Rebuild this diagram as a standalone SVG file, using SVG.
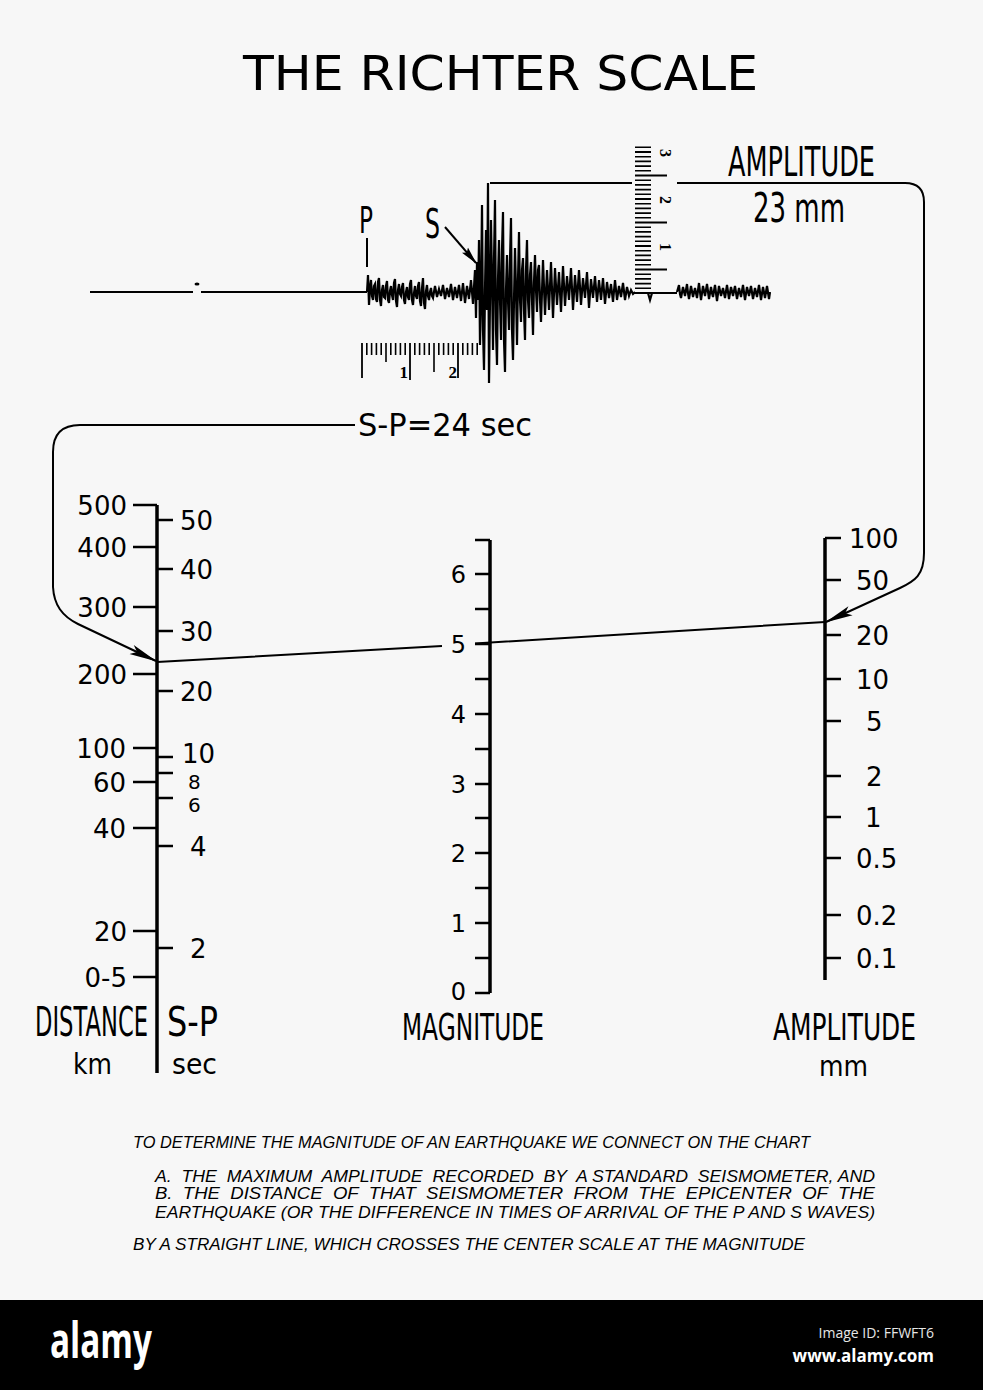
<svg xmlns="http://www.w3.org/2000/svg" width="983" height="1390" viewBox="0 0 983 1390">
<style>
.ln{stroke:#000;fill:none;stroke-width:2}
.ax{stroke:#000;fill:none;stroke-width:3.5}
.tk{stroke:#000;fill:none;stroke-width:2.5}
.num{font-family:"DejaVu Sans",sans-serif;font-size:26px;fill:#000}
.mag{font-family:"DejaVu Sans",sans-serif;font-size:24px;fill:#000}
.cap{font-family:"DejaVu Sans",sans-serif;fill:#000}
.rul{font-family:"Liberation Serif",serif;font-weight:bold;fill:#000}
.note{font-family:"Liberation Sans",sans-serif;font-style:italic;font-size:16px;fill:#000;white-space:pre}
.wave{stroke:#000;fill:none;stroke-width:2.2;stroke-linejoin:miter}
</style>
<defs>
<marker id="arr" markerWidth="28" markerHeight="12" refX="27" refY="6" orient="auto" markerUnits="userSpaceOnUse"><path d="M0,1 L28,6 L0,11 L6,6 Z" fill="#000"/></marker>
<marker id="arrS" markerWidth="18" markerHeight="9" refX="17" refY="4.5" orient="auto" markerUnits="userSpaceOnUse"><path d="M0,0.5 L18,4.5 L0,8.5 L3,4.5 Z" fill="#000"/></marker>
</defs>
<rect width="983" height="1390" fill="#f7f7f7"/>

<g id="title">
<text class="cap" x="243" y="90" font-size="48" textLength="515" lengthAdjust="spacingAndGlyphs">THE RICHTER SCALE</text>
</g>

<g id="seismogram">
<path class="ln" stroke-width="2.6" d="M90,292 H193 M201,292 H367"/>
<ellipse cx="197" cy="284" rx="2.5" ry="1.6" fill="#000"/>
<path class="wave" d="M367,292 368,275 369,305 370,288 371,280 372,296 373,300 374,286 375,284 376,299 377,302 378,282 379,278 380,300 381,306 382,290 383,285 384,297 385,298 386,286 387,281 388,300 389,303 390,291 391,286 392,295 393,300 394,283 395,279 396,301 397,307 398,290 399,284 400,294 401,296 402,287 403,283 404,300 405,304 406,292 407,287 408,297 409,300 410,284 411,280 412,300 413,305 414,293 415,286 416,296 417,299 418,286 419,282 420,301 421,306 422,288 423,278 424,303 425,309 426,291 427,285 428,296 429,300 430,292 431,288 432,296 433,298 435,286 437,297 439,289 441,296 443,285 445,299 447,288 449,297 451,284 453,300 455,287 457,298 459,285 461,301 463,283 465,303 467,286 469,299 471,280 473,304 475,270 476,318 477,262 478,300 479,240 480,345 481,300 482,205 483,330 484,370 485,290 486,230 487,310 488,183 489,383 490,300 491,220 492,280 493,350 494,260 495,200 496,330 497,365 498,280 499,240 500,300 501,340 502,250 503,212 504,340 505,372 506,290 507,255 508,300 509,330 510,260 511,218 512,330 513,360 514,300 515,248 516,290 517,345 518,280 519,232 520,300 521,322 522,270 523,258 524,310 525,340 526,270 527,240 528,300 529,318 530,275 531,262 532,300 533,335 534,282 535,255 536,290 537,312 538,270 539,265 540,300 541,322 543,260 545,315 547,270 549,310 551,262 553,318 555,268 557,305 559,272 561,312 563,266 565,306 567,276 569,300 571,268 573,310 575,275 577,302 579,270 581,305 583,278 585,298 587,272 589,308 591,279 593,298 595,276 597,302 599,280 601,300 603,278 605,304 607,282 609,298 611,284 613,302 615,280 617,300 619,286 621,297 623,283 625,300 627,287 629,296 631,290 633,294 635,292"/>
<path class="wave" d="M635,293 H648 L650,300 L652,293 H677"/>
<path class="wave" d="M677,292 679,285 680,294 681,298 683,287 685,296 687,284 688,293 689,299 691,286 693,297 695,288 697,298 699,283 700,292 701,300 703,286 705,296 707,284 709,299 711,287 712,293 713,297 715,285 717,301 719,286 721,296 723,288 725,298 727,285 729,299 731,287 733,296 735,286 737,299 739,288 741,297 743,285 745,300 747,287 749,296 751,286 753,299 755,288 757,297 759,285 761,300 763,287 765,298 767,286 769,299 770,292"/>
<path class="ln" d="M367,238 V267"/>
<text class="cap" x="359" y="233" font-size="38" textLength="14" lengthAdjust="spacingAndGlyphs">P</text>
<text class="cap" x="425" y="238" font-size="40" textLength="15" lengthAdjust="spacingAndGlyphs">S</text>
<path class="ln" d="M445,227 L476,263" marker-end="url(#arrS)"/>
</g>

<g id="time-ruler">
<path stroke="#000" stroke-width="1.6" fill="none" d="M366.8,343 V355 M371.6,343 V355 M376.4,343 V355 M381.2,343 V355 M390.8,343 V355 M395.6,343 V355 M400.4,343 V355 M405.2,343 V355 M414.8,343 V355 M419.6,343 V355 M424.4,343 V355 M429.2,343 V355 M438.8,343 V355 M443.6,343 V355 M448.4,343 V355 M453.2,343 V355 M462.8,343 V355 M467.6,343 V355 M472.4,343 V355 M477.2,343 V355"/>
<path stroke="#000" stroke-width="1.6" fill="none" d="M386,343 V362 M434,343 V372"/>
<path stroke="#000" stroke-width="1.8" fill="none" d="M362,343 V378 M410,343 V380 M458,343 V378"/>
<text class="rul" x="408" y="378" font-size="17" text-anchor="end">1</text>
<text class="rul" x="457" y="378" font-size="17" text-anchor="end">2</text>
</g>

<g id="amplitude-ruler">
<path stroke="#000" stroke-width="1.6" fill="none" d="M635,288.3 H651 M635,283.6 H651 M635,278.9 H651 M635,274.2 H651 M635,264.8 H651 M635,260.1 H651 M635,255.4 H651 M635,250.7 H651 M635,241.3 H651 M635,236.6 H651 M635,231.9 H651 M635,227.2 H651 M635,217.8 H651 M635,213.1 H651 M635,208.4 H651 M635,203.7 H651 M635,194.3 H651 M635,189.6 H651 M635,184.9 H651 M635,180.2 H651 M635,170.8 H651 M635,166.1 H651 M635,161.4 H651 M635,156.7 H651 M635,147.3 H651"/>
<path stroke="#000" stroke-width="1.8" fill="none" d="M633,293 H673 M635,269.5 H667 M635,222.5 H667 M635,175.5 H667 M635,246 H651 M635,199 H651 M635,152 H651"/>
<text class="rul" font-size="16" transform="translate(660,247) rotate(90)" text-anchor="middle">1</text>
<text class="rul" font-size="16" transform="translate(660,200) rotate(90)" text-anchor="middle">2</text>
<text class="rul" font-size="16" transform="translate(660,153) rotate(90)" text-anchor="middle">3</text>
</g>

<g id="amplitude-reading">
<text class="cap" x="728" y="176" font-size="40" textLength="147" lengthAdjust="spacingAndGlyphs">AMPLITUDE</text>
<text class="cap" x="753" y="222" font-size="40" textLength="92" lengthAdjust="spacingAndGlyphs">23 mm</text>
</g>

<g id="sp-reading">
<text class="cap" x="358" y="436" font-size="32" textLength="174" lengthAdjust="spacingAndGlyphs">S-P=24 sec</text>
</g>

<g id="distance-scale">
<path class="ax" d="M157,505 V1073"/>
<path class="tk" d="M133,505 H157 M133,547 H157 M133,607 H157 M133,674 H157 M133,748 H157 M133,782 H157 M133,828 H157 M133,931 H157 M133,977 H157"/>
<path class="tk" d="M157,520 H173 M157,569 H173 M157,631 H173 M157,691 H173 M157,757 H173 M157,773 H173 M157,798 H173 M157,846 H173 M157,948 H173"/>
<g class="num" text-anchor="end">
<text x="127" y="514.5">500</text>
<text x="127" y="556.5">400</text>
<text x="127" y="616.5">300</text>
<text x="127" y="683.5">200</text>
<text x="126" y="757.5">100</text>
<text x="126" y="791.5">60</text>
<text x="126" y="837.5">40</text>
<text x="127" y="940.5">20</text>
<text x="127" y="986.5">0-5</text>
</g>
<g class="num">
<text x="180" y="529.5">50</text>
<text x="180" y="578.5">40</text>
<text x="180" y="640.5">30</text>
<text x="180" y="700.5">20</text>
<text x="182" y="763">10</text>
<text x="188" y="789" font-size="20">8</text>
<text x="188" y="812" font-size="20">6</text>
<text x="190" y="855.5">4</text>
<text x="190" y="957.5">2</text>
</g>
<text class="cap" x="35" y="1036" font-size="40" textLength="113" lengthAdjust="spacingAndGlyphs">DISTANCE</text>
<text class="cap" x="167" y="1036" font-size="40" textLength="51" lengthAdjust="spacingAndGlyphs">S-P</text>
<text class="cap" x="73" y="1074" font-size="28" textLength="39" lengthAdjust="spacingAndGlyphs">km</text>
<text class="cap" x="172" y="1074" font-size="28" textLength="45" lengthAdjust="spacingAndGlyphs">sec</text>
</g>

<g id="magnitude-scale">
<path class="ax" d="M490,540 V993"/>
<path class="tk" d="M475,540 H490 M475,574 H490 M475,609 H490 M475,644 H490 M475,679 H490 M475,714 H490 M475,749 H490 M475,784 H490 M475,818 H490 M475,853 H490 M475,888 H490 M475,923 H490 M475,958 H490 M475,993 H490"/>
<g class="mag" text-anchor="end">
<text x="466" y="583">6</text>
<text x="466" y="653">5</text>
<text x="466" y="723">4</text>
<text x="466" y="793">3</text>
<text x="466" y="862">2</text>
<text x="466" y="932">1</text>
<text x="466" y="1000">0</text>
</g>
<text class="cap" x="402" y="1040" font-size="37" textLength="142" lengthAdjust="spacingAndGlyphs">MAGNITUDE</text>
</g>

<g id="amplitude-scale">
<path class="ax" d="M825,538 V980"/>
<path class="tk" d="M825,538 H841 M825,580 H841 M825,635 H841 M825,679 H841 M825,721 H841 M825,776 H841 M825,817 H841 M825,858 H841 M825,915 H841 M825,958 H841"/>
<g class="num">
<text x="849" y="547.5">100</text>
<text x="856" y="589.5">50</text>
<text x="856" y="644.5">20</text>
<text x="856" y="688.5">10</text>
<text x="866" y="730.5">5</text>
<text x="866" y="785.5">2</text>
<text x="865" y="826.5">1</text>
<text x="856" y="867.5">0.5</text>
<text x="856" y="924.5">0.2</text>
<text x="856" y="967.5">0.1</text>
</g>
<text class="cap" x="773" y="1040" font-size="37" textLength="143" lengthAdjust="spacingAndGlyphs">AMPLITUDE</text>
<text class="cap" x="819" y="1076" font-size="28" textLength="49" lengthAdjust="spacingAndGlyphs">mm</text>
</g>

<g id="connectors">
<path class="ln" d="M490,183 H632 M677,183 H905 Q924,183 924,202 V553 C924,575 915,581 900,588 L826,622" marker-end="url(#arr)"/>
<path class="ln" d="M355,425 H80 Q53,425 53,452 V587 C54,605 62,616 78,624 L156,661" marker-end="url(#arr)"/>
<path class="ln" stroke-width="1.8" d="M157,662 L442,646 M475,643.5 L825,622"/>
</g>

<g id="caption">
<text class="note" x="133" y="1148" textLength="677" lengthAdjust="spacingAndGlyphs">TO DETERMINE THE MAGNITUDE OF AN EARTHQUAKE WE CONNECT ON THE CHART</text>
<text class="note" x="155" y="1182" textLength="720" lengthAdjust="spacingAndGlyphs">A.  THE  MAXIMUM  AMPLITUDE  RECORDED  BY  A STANDARD  SEISMOMETER, AND</text>
<text class="note" x="155" y="1199" textLength="720" lengthAdjust="spacingAndGlyphs">B.  THE  DISTANCE  OF  THAT  SEISMOMETER  FROM  THE  EPICENTER  OF  THE</text>
<text class="note" x="155" y="1218" textLength="720" lengthAdjust="spacingAndGlyphs">EARTHQUAKE (OR THE DIFFERENCE IN TIMES OF ARRIVAL OF THE P AND S WAVES)</text>
<text class="note" x="133" y="1250" textLength="672" lengthAdjust="spacingAndGlyphs">BY A STRAIGHT LINE, WHICH CROSSES THE CENTER SCALE AT THE MAGNITUDE</text>
</g>

<g id="footer">
<rect x="0" y="1300" width="983" height="90" fill="#000"/>
<text x="50" y="1358" font-family="'Open Sans','DejaVu Sans',sans-serif" font-weight="bold" font-size="50" fill="#fff" textLength="102" lengthAdjust="spacingAndGlyphs">alamy</text>
<text x="934" y="1338" font-family="'Open Sans','DejaVu Sans',sans-serif" font-size="14" fill="#e6e6e6" text-anchor="end">Image ID: FFWFT6</text>
<text x="934" y="1362" font-family="'Open Sans','DejaVu Sans',sans-serif" font-weight="bold" font-size="17" fill="#fff" text-anchor="end">www.alamy.com</text>
</g>
</svg>
